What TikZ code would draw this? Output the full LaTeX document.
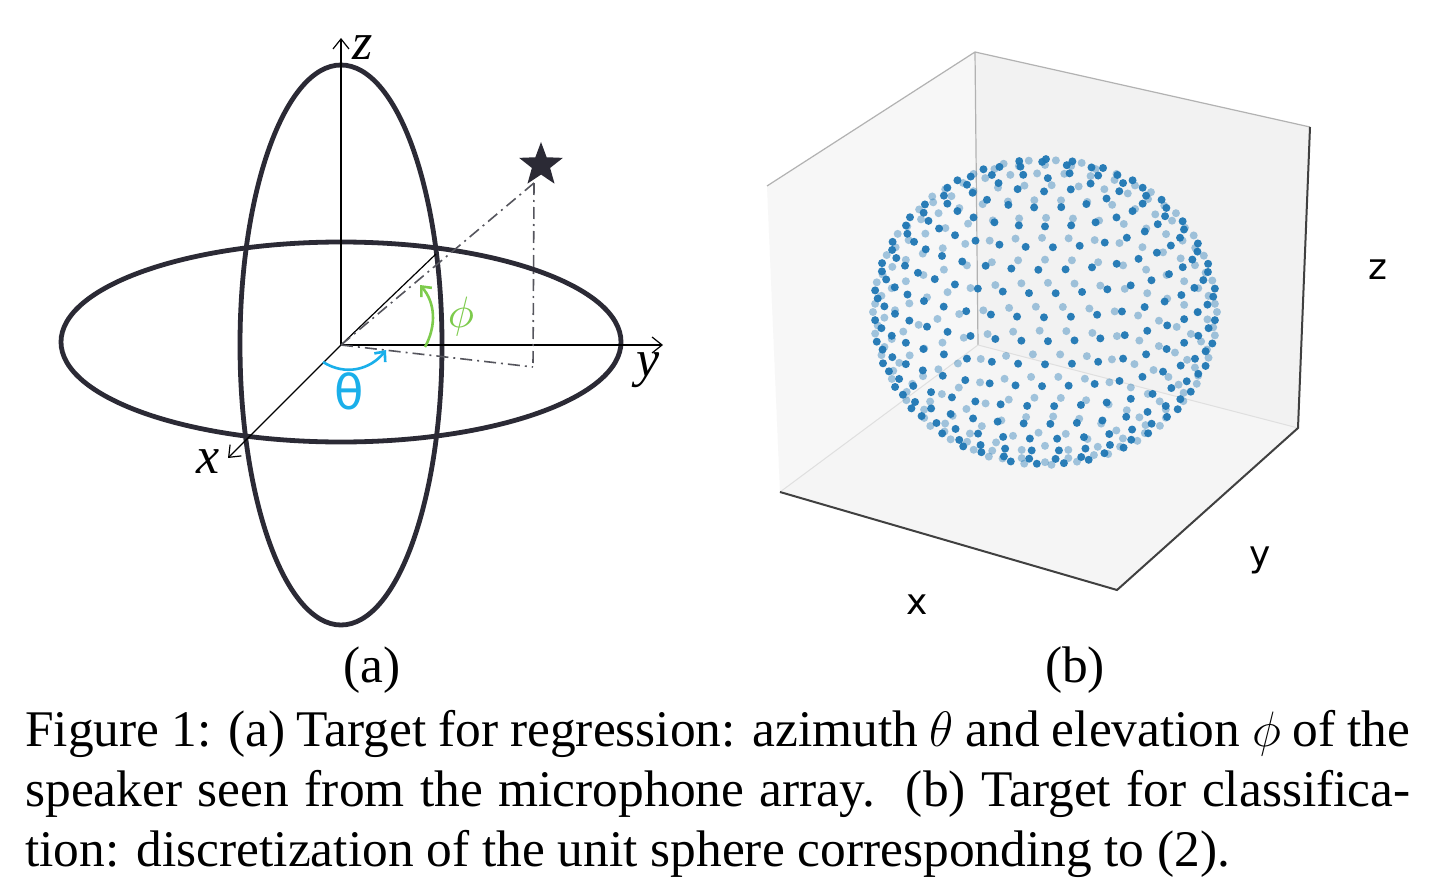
\documentclass[tikz,border=0pt]{standalone}
\usepackage{fontspec}
\setmainfont{Liberation Serif}
\newfontfamily\mpl{DejaVu Sans}
\usetikzlibrary{arrows.meta,shapes.geometric}
\definecolor{ring}{HTML}{2B2A35}
\definecolor{ptblue}{HTML}{1F77B4}
\definecolor{thcol}{HTML}{1AAFEA}
\definecolor{phcol}{HTML}{7DCB4C}
\begin{document}
\begin{tikzpicture}[x=0.5pt,y=-0.5pt,
  ringline/.style={draw=ring,line width=2.4pt},
  axisline/.style={draw=black,line width=0.6pt,-{Straight Barb[length=5pt,width=8pt]}},
  dd/.style={draw=ring!80,line width=0.8pt,dash pattern=on 6pt off 2.5pt on 1pt off 2.5pt},
  captxt/.style={anchor=base west,inner sep=0pt,font=\fontsize{25.7}{30}\selectfont}]
\useasboundingbox[fill=white] (0,0) rectangle (1440,888);
% ---------- panel (a)
\coordinate (O) at (341,345);
\draw[ringline] (341,345) ellipse [x radius=101, y radius=280];
\draw[ringline] (341,342) ellipse [x radius=280, y radius=100];
\coordinate (zt) at (341,38);
\coordinate (yt) at (663,345);
\coordinate (xt) at (228,458);
\draw[axisline] (O) -- (zt);
\draw[axisline] (O) -- (yt);
\draw[axisline] (O) -- (xt);
\draw[line width=0.6pt] (O) -- (436,254);
\node[star,star points=5,star point ratio=2.4,fill=ring,minimum size=23pt,inner sep=0pt] (star) at (541,165) {};
\coordinate (foot) at (533,367);
\draw[dd] (O) -- (534,183);
\draw[dd] (534,183) -- (foot);
\draw[dd] (O) -- (foot);
\draw[phcol,line width=1.3pt,-{Straight Barb[length=4pt,width=7pt]}] (425,347) .. controls (437,325) and (435,302) .. (420,285);
\draw[thcol,line width=1.3pt,-{Straight Barb[length=4pt,width=7pt]}] (323,362) .. controls (345,376) and (370,370) .. (386,350);
\node[text=phcol] (phl) at (461,316) {\scalebox{2.2}{$\phi$}};
\node[text=thcol,font=\fontsize{24}{28}\mpl] (thl) at (349,391) {θ};
\node[font=\fontsize{26}{30}\selectfont\itshape] (zl) at (363,48) {z};
\node[font=\fontsize{26}{30}\selectfont\itshape] (yl) at (648,370) {y};
\node[font=\fontsize{26}{30}\selectfont\itshape] (xl) at (208,462) {x};
% ---------- panel (b)
\fill[gray!6] (767,186) -- (975,52) -- (978,345) -- (780,492) -- cycle;
\fill[gray!10] (975,52) -- (1310,127) -- (1298,428) -- (978,345) -- cycle;
\fill[gray!8] (780,492) -- (978,345) -- (1298,428) -- (1117,590) -- cycle;
\draw[gray!60,line width=0.6pt] (975,52) -- (978,345) (767,186) -- (975,52) -- (1310,127);
\draw[gray!25,line width=0.5pt] (978,345) -- (1298,428) (978,345) -- (780,492);
\draw[black!75,line width=1pt] (780,492) -- (1117,590) -- (1298,428) -- (1310,127);
\foreach \i in {0,...,18}{
  \pgfmathsetmacro\lat{-81+9*\i}
  \pgfmathtruncatemacro\n{max(1,round(40*cos(\lat)))}
  \foreach \j in {1,...,\n}{
    \pgfmathsetmacro\lon{360*\j/\n+37*\i}
    \pgfmathsetmacro\sx{cos(\lat)*sin(\lon)}
    \pgfmathsetmacro\sy{sin(\lat)*cos(20)-cos(\lat)*cos(\lon)*sin(20)}
    \pgfmathsetmacro\dpt{cos(\lat)*cos(\lon)*cos(20)+sin(\lat)*sin(20)}
    \pgfmathsetmacro\op{\dpt>0?0.95:0.4}
    \fill[ptblue,opacity=\op] (1045+172*\sx,312-153*\sy) circle[radius=2pt];
  }}
\node[font=\fontsize{18}{21}\mpl] (bz) at (1378,270) {z};
\node[font=\fontsize{18}{21}\mpl] (by) at (1260,560) {y};
\node[font=\fontsize{18}{21}\mpl] (bx) at (917,605) {x};
% ---------- captions
\node[font=\fontsize{25.7}{30}\selectfont] (la) at (372,670) {(a)};
\node[font=\fontsize{25.7}{30}\selectfont] (lb) at (1075,670) {(b)};
\node[captxt] (c1) at (25,746) {\makebox[692.5pt][s]{Figure 1: (a) Target for regression: azimuth $\theta$ and elevation $\phi$ of the}};
\node[captxt] (c2) at (25,806) {\makebox[692.5pt][s]{speaker seen from the microphone array.\ \ (b) Target for classifica-}};
\node[captxt] (c3) at (25,866) {tion: discretization of the unit sphere corresponding to (2).};
\end{tikzpicture}
\end{document}
